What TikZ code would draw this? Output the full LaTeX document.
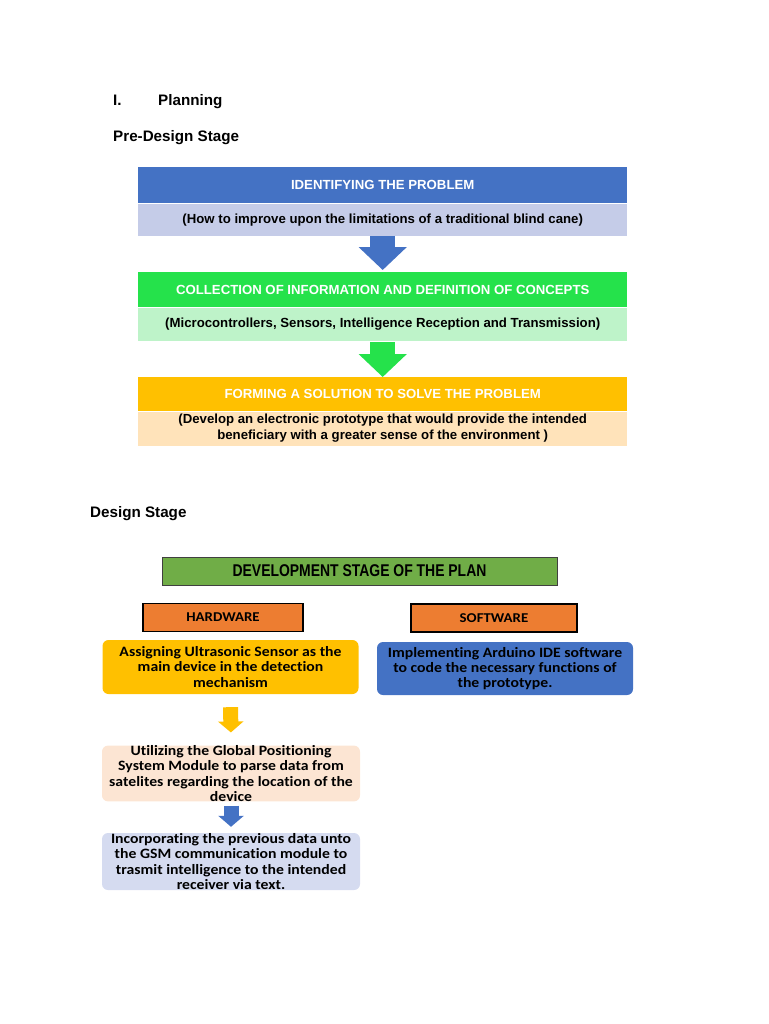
\documentclass[tikz,border=0pt]{standalone}
\usepackage{fontspec}
\setmainfont{Liberation Sans}
\newfontfamily\calfont[FakeStretch=1.1,Ligatures=NoCommon]{Carlito}
\newfontfamily\narrowfont[FakeStretch=0.82]{Liberation Sans}
\usetikzlibrary{arrows.meta}

\definecolor{stepblue}{HTML}{4472C4}
\definecolor{stepblueband}{HTML}{C5CCE8}
\definecolor{stepgreen}{HTML}{25E24B}
\definecolor{stepgreenband}{HTML}{BEF3C9}
\definecolor{steporange}{HTML}{FFC000}
\definecolor{steporangeband}{HTML}{FFE3BA}
\definecolor{devgreen}{HTML}{70AD47}
\definecolor{partorange}{HTML}{ED7D31}
\definecolor{peach}{HTML}{FCE5D3}
\definecolor{lavender}{HTML}{D5DBF0}

\begin{document}
\begin{tikzpicture}[x=1pt,y=-1pt,
  heading/.style={anchor=base west,inner sep=0pt,font=\fontsize{15.2}{18}\selectfont\bfseries},
  titlebar/.style={fill=#1,text=white,font=\fontsize{13.2}{16}\selectfont\bfseries,minimum width=489pt,minimum height=35pt,inner sep=0pt,anchor=north west},
  noteband/.style={fill=#1,font=\fontsize{13.2}{16}\selectfont\bfseries,align=center,minimum width=489pt,minimum height=33pt,inner sep=0pt,anchor=north},
  partbox/.style={fill=partorange,draw=black,line width=1.1pt,minimum width=#1,minimum height=28pt,inner sep=0pt,font=\calfont\fontsize{13.5}{15}\selectfont\bfseries},
  taskbox/.style={fill=#1,rounded corners=6pt,minimum width=256pt,inner sep=0pt,align=center,font=\calfont\fontsize{14.3}{15.2}\selectfont\bfseries},
  blockarrow/.style={line width=25pt,-{Triangle[width=47pt,length=23pt]}},
  smallarrow/.style={line width=15pt,-{Triangle[width=25pt,length=11pt]}}]
\useasboundingbox (0,0) rectangle (768,1024);

% headings
\node[heading] (num) at (113,106) {I.};
\node[heading] (plan) at (158,106) {Planning};
\node[heading] (pre) at (113,142) {Pre-Design Stage};
\node[heading] (des) at (90,517) {Design Stage};

\begin{scope}
% pre-design stage
\node[titlebar=stepblue,minimum height=36pt] (t1) at (138,167) {IDENTIFYING THE PROBLEM};
\node[noteband=stepblueband,minimum height=32pt] (b1) at (t1.south) {(How to improve upon the limitations of a traditional blind cane)};

\node[titlebar=stepgreen] (t2) at (138,272) {COLLECTION OF INFORMATION AND DEFINITION OF CONCEPTS};
\node[noteband=stepgreenband] (b2) at (t2.south) {(Microcontrollers, Sensors, Intelligence Reception and Transmission)};

\node[titlebar=steporange,minimum height=34pt] (t3) at (138,377) {FORMING A SOLUTION TO SOLVE THE PROBLEM};
\node[noteband=steporangeband,minimum height=34pt] (b3) at (t3.south) {(Develop an electronic prototype that would provide the intended\\beneficiary with a greater sense of the environment )};

\draw[blockarrow,stepblue,shorten >=2pt] (b1.south) -- (t2.north);
\draw[blockarrow,stepgreen,shorten <=1pt] (b2.south) -- (t3.north);
\end{scope}

\begin{scope}
% design stage
\node[fill=devgreen,draw=black!75,minimum width=395pt,minimum height=28pt,inner sep=0pt,font=\narrowfont\fontsize{17}{19}\selectfont\bfseries] (dev) at (359.5,571) {DEVELOPMENT STAGE OF THE PLAN};
\node[partbox=160pt] (hw) at (223,617.5) {HARDWARE};
\node[partbox=166pt] (sw) at (494,618) {SOFTWARE};

\node[taskbox=steporange,minimum height=54pt] (ultra) at (230.5,667) {Assigning Ultrasonic Sensor as the\\main device in the detection\\mechanism};
\node[taskbox=stepblue,minimum height=53pt] (ide) at (505,668.5) {Implementing Arduino IDE software\\to code the necessary functions of\\the prototype.};
\node[taskbox=peach,minimum width=258pt,minimum height=55pt] (gps) at (231,773.5) {Utilizing the Global Positioning\\System Module to parse data from\\satelites regarding the location of the\\device};
\node[taskbox=lavender,minimum width=258pt,minimum height=57pt] (gsm) at (231,861.5) {Incorporating the previous data unto\\the GSM communication module to\\trasmit intelligence to the intended\\receiver via text.};

\draw[smallarrow,steporange,shorten <=13pt,shorten >=13pt] (ultra.south) -- (gps.north);
\draw[smallarrow,stepblue,shorten <=4pt,shorten >=6pt] (gps.south) -- (gsm.north);
\end{scope}

\end{tikzpicture}
\end{document}
